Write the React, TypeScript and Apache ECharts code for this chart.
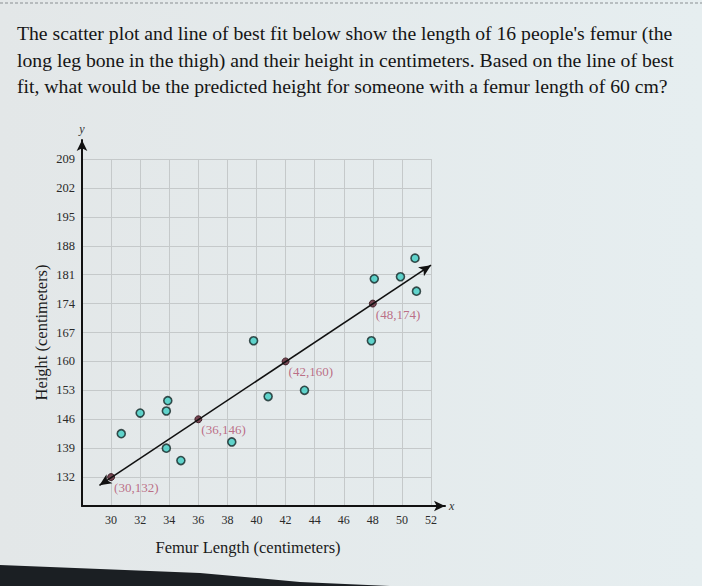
import React, { useEffect, useRef } from "react";
import * as echarts from "echarts";

const titleLines = [
  "The scatter plot and line of best fit below show the length of 16 people's femur (the",
  "long leg bone in the thigh) and their height in centimeters. Based on the line of best",
  "fit, what would be the predicted height for someone with a femur length of 60 cm?",
];
const xAxisName = "Femur Length (centimeters)";
const yAxisName = "Height (centimeters)";
const xMin = 28;
const xMax = 52;
const xStep = 2;
const yMin = 125;
const yMax = 209;
const yStep = 7;

const femur = [30.7, 32, 33.9, 33.8, 33.8, 34.8, 38.3, 39.8, 40.8, 43.3, 47.9, 48.1, 49.9, 50.9, 51];
const heightCm = [142.5, 147.5, 150.5, 148, 139, 136, 140.5, 165, 151.5, 153, 165, 180, 180.5, 185, 177];

const fitX = [30, 36, 42, 48];
const fitY = [132, 146, 160, 174];
const fitStart = [29.2, 130];
const fitEnd = [52, 183.3];

const SERIF = '"Liberation Serif", "DejaVu Serif", serif';

export default function App() {
  const ref = useRef<HTMLDivElement>(null);
  useEffect(() => {
    if (!ref.current) return;
    const chart = echarts.init(ref.current, null, { renderer: "svg" });
    const points = femur.map((x, i) => [x, heightCm[i]]);
    const fitPts = fitX.map((x, i) => [x, fitY[i]]);
    chart.setOption({
      animation: false,
      backgroundColor: {
        type: "linear",
        x: 0,
        y: 0,
        x2: 1,
        y2: 0,
        colorStops: [
          { offset: 0, color: "#e3e7e8" },
          { offset: 1, color: "#e6eef0" },
        ],
      },
      textStyle: { fontFamily: SERIF },
      grid: [
        { left: 82, top: 159, width: 349, height: 347 },
        { left: 82, top: 140, width: 363, height: 366 },
      ],
      xAxis: [
        {
          type: "value",
          gridIndex: 0,
          min: xMin,
          max: xMax,
          interval: xStep,
          axisLine: { show: false },
          axisTick: { show: false },
          splitLine: { show: true, lineStyle: { color: "#c5c9ca", width: 1 } },
          axisLabel: {
            margin: 8,
            fontFamily: SERIF,
            fontSize: 12,
            color: "#2a2a2a",
            formatter: (v: number) => (v === xMin ? "" : String(v)),
          },
          name: xAxisName,
          nameLocation: "middle",
          nameGap: 33,
          nameTextStyle: {
            fontFamily: SERIF,
            fontSize: 16.5,
            color: "#1a1a1a",
            padding: [0, 17, 0, 0],
          },
        },
        {
          type: "value",
          gridIndex: 1,
          min: 0,
          max: 1,
          axisLine: {
            show: true,
            lineStyle: { color: "#111", width: 2 },
            symbol: ["none", "arrow"],
            symbolSize: [8, 11],
          },
          axisTick: { show: false },
          axisLabel: { show: false },
          splitLine: { show: false },
          name: "x",
          nameLocation: "end",
          nameGap: 4,
          nameTextStyle: { fontFamily: SERIF, fontStyle: "italic", fontSize: 12, color: "#333" },
        },
      ],
      yAxis: [
        {
          type: "value",
          gridIndex: 0,
          min: yMin,
          max: yMax,
          interval: yStep,
          axisLine: { show: false },
          axisTick: { show: false },
          splitLine: { show: true, lineStyle: { color: "#c5c9ca", width: 1 } },
          axisLabel: {
            margin: 7,
            fontFamily: SERIF,
            fontSize: 12.5,
            color: "#2a2a2a",
            formatter: (v: number) => (v === yMin ? "" : String(v)),
          },
          name: yAxisName,
          nameLocation: "middle",
          nameGap: 32,
          nameTextStyle: { fontFamily: SERIF, fontSize: 16.5, color: "#1a1a1a" },
        },
        {
          type: "value",
          gridIndex: 1,
          min: 0,
          max: 1,
          axisLine: {
            show: true,
            lineStyle: { color: "#111", width: 2 },
            symbol: ["none", "arrow"],
            symbolSize: [8, 11],
          },
          axisTick: { show: false },
          axisLabel: { show: false },
          splitLine: { show: false },
          name: "y",
          nameLocation: "end",
          nameGap: 5,
          nameTextStyle: { fontFamily: SERIF, fontStyle: "italic", fontSize: 12, color: "#333" },
        },
      ],
      series: [
        {
          type: "scatter",
          xAxisIndex: 0,
          yAxisIndex: 0,
          data: fitPts,
          symbol: "circle",
          symbolSize: 7,
          z: 4,
          itemStyle: { color: "#5b1f2e", borderColor: "#2a0d14", borderWidth: 1 },
          emphasis: { disabled: true },
          label: {
            show: true,
            position: [7, 8],
            formatter: (p: any) => `(${p.value[0]},${p.value[1]})`,
            fontFamily: SERIF,
            fontSize: 13,
            color: "#b04d6b",
          },
          markLine: {
            silent: true,
            symbol: ["arrow", "arrow"],
            symbolSize: [8, 12],
            label: { show: false },
            lineStyle: { color: "#111", width: 1.6, type: "solid" },
            emphasis: { disabled: true },
            data: [[{ coord: fitStart }, { coord: fitEnd }]],
          },
        },
        {
          type: "scatter",
          xAxisIndex: 0,
          yAxisIndex: 0,
          data: points,
          symbol: "circle",
          symbolSize: 8,
          z: 5,
          itemStyle: { color: "#3fcdc3", borderColor: "#142626", borderWidth: 1.6 },
          emphasis: { disabled: true },
        },
      ],
      graphic: [
        {
          type: "line",
          shape: { x1: 0, y1: 3, x2: 702, y2: 3 },
          style: { stroke: "#8a8f92", lineWidth: 1, lineDash: [3, 2] },
          silent: true,
        },
        {
          type: "text",
          left: 17,
          top: 20,
          style: {
            text: titleLines.join("\n"),
            font: `19.7px ${SERIF}`,
            fill: "#151515",
            lineHeight: 26.5,
          },
          silent: true,
        },
        {
          type: "polygon",
          shape: {
            points: [
              [0, 565],
              [200, 573],
              [300, 582],
              [390, 586],
              [0, 586],
            ],
          },
          style: { fill: "#1b1f23" },
          silent: true,
        },
      ],
    });
    return () => chart.dispose();
  }, []);
  return (
    <div
      ref={ref}
      style={{ position: "fixed", left: 0, top: 0, width: 702, height: 586 }}
    />
  );
}
